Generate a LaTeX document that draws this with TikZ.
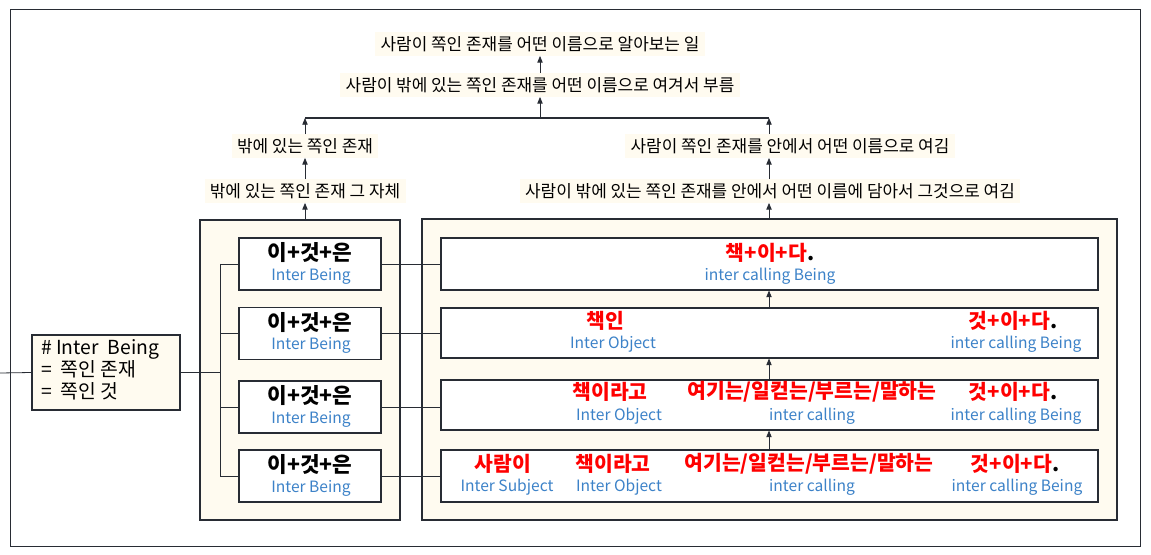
\documentclass[tikz,border=0pt]{standalone}
\usepackage{fontspec}
\setmainfont{Noto Sans CJK KR}
\usetikzlibrary{arrows.meta}
\definecolor{cream}{RGB}{255,251,240}
\definecolor{ibl}{RGB}{60,130,200}
\definecolor{ln}{RGB}{40,44,52}
\tikzset{
 lbl/.style={fill=cream,inner xsep=4pt,inner ysep=3pt,font=\fontsize{12.7}{14}\selectfont,text=black},
 cont/.style={draw=ln,fill=cream,line width=0.8pt},
 bx/.style={draw=ln,fill=white,line width=0.8pt},
 rd/.style={text=red,font=\fontsize{15.3}{17}\selectfont\bfseries},
 bl/.style={text=ibl,font=\fontsize{11.7}{13}\selectfont},
 conn/.style={draw=ln,line width=0.6pt},
 arr/.style={conn,-{Triangle[length=5pt,width=4pt]}}
}
\newcommand{\pd}{\textcolor{black}{.}}
\begin{document}
\begin{tikzpicture}[x=0.75pt,y=-0.75pt]
\useasboundingbox (0,0) rectangle (1151,555);
\draw[draw=ln,fill=white,line width=0.6pt] (10,9) rectangle (1140,546);
% containers
\node[cont,minimum width=200*0.75pt,minimum height=300*0.75pt,inner sep=0] (lc) at (300,370) {};
\node[cont,minimum width=695*0.75pt,minimum height=301*0.75pt,inner sep=0] (rc) at (769.5,369.5) {};
% hash box
\node[cont,minimum width=148*0.75pt,minimum height=75*0.75pt,inner sep=0] (hb) at (106,372.5) {};
\node[anchor=north west,align=left,font=\fontsize{14.5}{16.5}\selectfont,inner sep=0] at (41,339) {\# Inter\ \ Being\\=\ \ 쪽인\ 존재\\=\ \ 쪽인\ 것};
\coordinate (le) at (0,373);
\draw[conn] (le) -- (hb.west);
% small boxes
\foreach \i/\y in {1/264,2/333.5,3/407,4/476}{
 \node[bx,minimum width=142*0.75pt,minimum height=52*0.75pt,inner sep=0] (s\i) at (310,\y) {};
 \node[font=\fontsize{16}{18}\selectfont\bfseries] at (310,\y-11) {이+것+은};
 \node[bl] at (311,\y+12) {Inter Being};
}
\coordinate (bus) at (220,372.5);
\draw[conn] (hb.east) -- (bus);
\draw[conn] (220,264) -- (220,476);
\foreach \i in {1,...,4}{\draw[conn] (220,0 |- s\i.west) -- (s\i.west);}
% right boxes
\node[bx,minimum width=657*0.75pt,minimum height=52*0.75pt,inner sep=0] (r1) at (769.5,264) {};
\node[bx,minimum width=657*0.75pt,minimum height=50*0.75pt,inner sep=0] (r2) at (769.5,333) {};
\node[bx,minimum width=657*0.75pt,minimum height=50*0.75pt,inner sep=0] (r3) at (769.5,405) {};
\node[bx,minimum width=657*0.75pt,minimum height=52*0.75pt,inner sep=0] (r4) at (769.5,476) {};
\foreach \i in {1,...,4}{\draw[conn] (s\i.east) -- (s\i.east -| r\i.west);}
\draw[arr] (r4.north -| 769,0) -- (r3.south -| 769,0);
\draw[arr] (r3.north -| 769,0) -- (r2.south -| 769,0);
\draw[arr] (r2.north -| 769,0) -- (r1.south -| 769,0);
% texts
\node[rd] at (770,253) {책+이+다\pd};
\node[bl] at (770,276) {inter calling Being};
\node[rd] at (605,321) {책인};
\node[bl] at (613,344) {Inter Object};
\node[rd] at (1013,321) {것+이+다\pd};
\node[bl] at (1016,344) {inter calling Being};
\node[rd] at (610,392) {책이라고};
\node[bl] at (619,416) {Inter Object};
\node[rd] at (812,392) {여기는/일컫는/부르는/말하는};
\node[bl] at (812,416) {inter calling};
\node[rd] at (1013,392) {것+이+다\pd};
\node[bl] at (1016,416) {inter calling Being};
\node[rd] at (503,464) {사람이};
\node[bl] at (507,487) {Inter Subject};
\node[rd] at (613,464) {책이라고};
\node[bl] at (619,487) {Inter Object};
\node[rd] at (809,464) {여기는/일컫는/부르는/말하는};
\node[bl] at (812,487) {inter calling};
\node[rd] at (1015,464) {것+이+다\pd};
\node[bl] at (1017,487) {inter calling Being};
% labels
\node[lbl] (L1) at (540,44) {사람이 쪽인 존재를 어떤 이름으로 알아보는 일};
\node[lbl] (L2) at (540,85) {사람이 밖에 있는 쪽인 존재를 어떤 이름으로 여겨서 부름};
\node[lbl] (L3) at (305,146) {밖에 있는 쪽인 존재};
\node[lbl] (L4) at (305,191) {밖에 있는 쪽인 존재 그 자체};
\node[lbl] (L5) at (790,146) {사람이 쪽인 존재를 안에서 어떤 이름으로 여김};
\node[lbl] (L6) at (770,191) {사람이 밖에 있는 쪽인 존재를 안에서 어떤 이름에 담아서 그것으로 여김};
\draw[arr] (lc.north -| 305,0) -- (L4.south -| 305,0);
\draw[arr] (L4.north -| 305,0) -- (L3.south -| 305,0);
\draw[arr] (rc.north -| 769,0) -- (L6.south -| 769,0);
\draw[arr] (L6.north -| 769,0) -- (L5.south -| 769,0);
\coordinate (bl) at (305,118);
\coordinate (br) at (769,118);
\draw[conn,line width=0.8pt] (bl) -- (br);
\draw[arr] (L3.north -| 305,0) -- (bl);
\draw[arr] (L5.north -| 769,0) -- (br);
\draw[arr] (540,118) -- (L2.south -| 540,0);
\draw[arr] (L2.north -| 540,0) -- (L1.south -| 540,0);
\end{tikzpicture}
\end{document}
